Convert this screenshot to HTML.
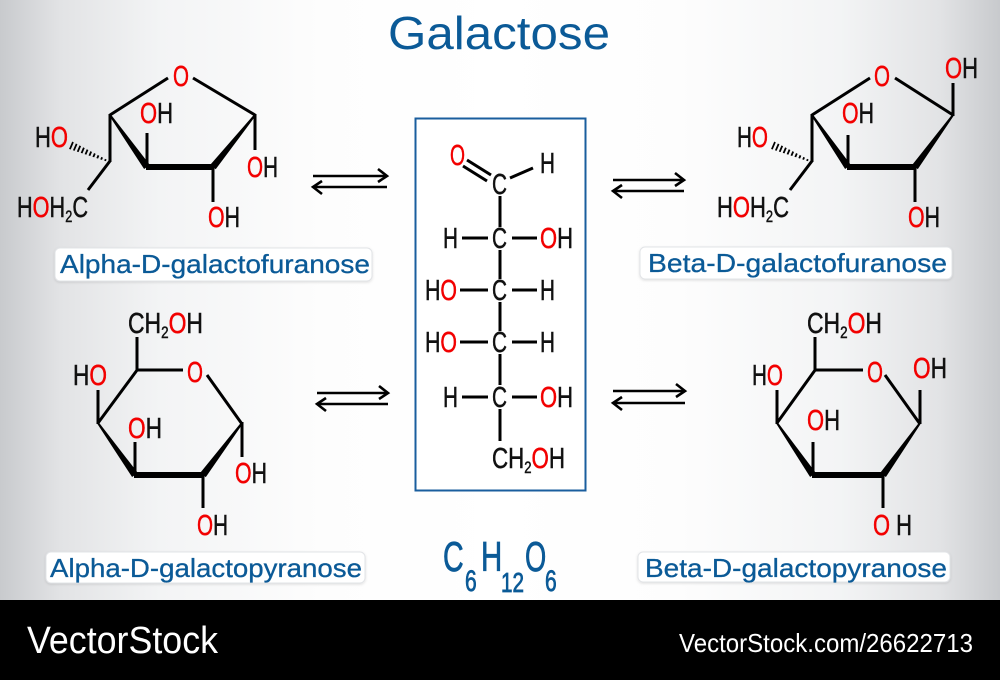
<!DOCTYPE html>
<html><head><meta charset="utf-8">
<style>
html,body{margin:0;padding:0;}
body{width:1000px;height:680px;overflow:hidden;background:#fff;}
svg{display:block;}
.t{font-family:"Liberation Sans",sans-serif;font-size:29px;fill:#111;stroke:#111;stroke-width:0.5;}
.r{fill:#f20000;stroke:#f20000;}
.s{font-size:17px;}
.lb{font-family:"Liberation Sans",sans-serif;font-size:26px;fill:#0b5a97;stroke:#0b5a97;stroke-width:0.3;}
.b{stroke:#000;stroke-width:3;fill:none;}
.bb{stroke:#000;stroke-width:6;fill:none;}
.w{fill:#000;}
.ar{stroke:#000;stroke-width:2.6;fill:none;}
.box{fill:#fff;stroke:#e2e4e7;stroke-width:1;}
.f{font-family:"Liberation Sans",sans-serif;fill:#0b5a97;stroke:#0b5a97;stroke-width:0.8;}
</style></head>
<body>
<svg width="1000" height="680" viewBox="0 0 1000 680" xmlns="http://www.w3.org/2000/svg">
<defs>
<linearGradient id="bg" x1="0" y1="0" x2="1" y2="0">
<stop offset="0" stop-color="#c8cacd"/>
<stop offset="0.06" stop-color="#e2e3e5"/>
<stop offset="0.16" stop-color="#f3f4f5"/>
<stop offset="0.32" stop-color="#fdfdfd"/>
<stop offset="0.5" stop-color="#ffffff"/>
<stop offset="0.68" stop-color="#fdfdfd"/>
<stop offset="0.84" stop-color="#f3f4f5"/>
<stop offset="0.94" stop-color="#e2e3e5"/>
<stop offset="1" stop-color="#c8cacd"/>
</linearGradient>
<filter id="sh" x="-5%" y="-20%" width="110%" height="140%">
<feDropShadow dx="0" dy="1" stdDeviation="1.2" flood-color="#000" flood-opacity="0.12"/>
</filter>
<mask id="h1" maskUnits="userSpaceOnUse" x="0" y="0" width="1000" height="680">
<line x1="110" y1="162" x2="68" y2="144" stroke="#fff" stroke-width="14" stroke-dasharray="1.8 2.3"/>
</mask>
<mask id="h2" maskUnits="userSpaceOnUse" x="0" y="0" width="1000" height="680">
<line x1="812" y1="162" x2="770" y2="144" stroke="#fff" stroke-width="14" stroke-dasharray="1.8 2.3"/>
</mask>
</defs>

<rect x="0" y="0" width="1000" height="600" fill="url(#bg)"/>

<!-- Title -->
<text x="388" y="49" font-family="Liberation Sans, sans-serif" font-size="46" fill="#0b5a97" textLength="222" lengthAdjust="spacingAndGlyphs">Galactose</text>

<!-- ===== Top-left: alpha furanose ===== -->
<line class="b" x1="110" y1="115" x2="168" y2="78"/>
<line class="b" x1="193" y1="78" x2="255" y2="115"/>
<line class="b" x1="255" y1="114" x2="255" y2="150"/>
<polygon class="w" points="255.8,115.6 215.7,169.2 210.3,164.8 254.2,114.4"/>
<line class="bb" x1="214" y1="167" x2="146" y2="167"/>
<line class="b" x1="213" y1="167" x2="213" y2="202"/>
<line class="b" x1="147" y1="167" x2="147" y2="133"/>
<polygon class="w" points="110.8,114.4 149.9,165 144.1,169 109.2,115.6"/>
<line class="b" x1="110" y1="114" x2="110" y2="162"/>
<line class="b" x1="110" y1="161" x2="88" y2="190"/>
<polygon class="w" mask="url(#h1)" points="110.2,161.5 71.6,141.3 68.4,148.7 109.8,162.5"/>
<text class="t" x="173" y="86" textLength="16" lengthAdjust="spacingAndGlyphs"><tspan class="r">O</tspan></text>
<text class="t" x="140" y="123" textLength="33" lengthAdjust="spacingAndGlyphs"><tspan class="r">O</tspan>H</text>
<text class="t" x="35" y="147" textLength="33" lengthAdjust="spacingAndGlyphs">H<tspan class="r">O</tspan></text>
<text class="t" x="247" y="177" textLength="31" lengthAdjust="spacingAndGlyphs"><tspan class="r">O</tspan>H</text>
<text class="t" x="208" y="227" textLength="32" lengthAdjust="spacingAndGlyphs"><tspan class="r">O</tspan>H</text>
<text class="t" x="17" y="217" textLength="71" lengthAdjust="spacingAndGlyphs">H<tspan class="r">O</tspan>H<tspan class="s" dy="5">2</tspan><tspan dy="-5">C</tspan></text>

<!-- arrows TL -->
<line class="ar" x1="313" y1="176" x2="387" y2="176"/>
<polyline class="ar" points="378,169 387,176 378,182"/>
<line class="ar" x1="313" y1="187" x2="387" y2="187"/>
<polyline class="ar" points="322,181 313,187 322,194"/>

<rect class="box" filter="url(#sh)" x="55" y="248" width="317" height="33" rx="5"/>
<text class="lb" x="60" y="273" textLength="310" lengthAdjust="spacingAndGlyphs">Alpha-D-galactofuranose</text>

<!-- ===== Top-right: beta furanose ===== -->
<line class="b" x1="812" y1="115" x2="870" y2="78"/>
<line class="b" x1="895" y1="78" x2="953" y2="115"/>
<line class="b" x1="953" y1="116" x2="953" y2="83"/>
<polygon class="w" points="953.8,115.6 917.8,169.1 912.2,164.9 952.2,114.4"/>
<line class="bb" x1="916" y1="167" x2="847" y2="167"/>
<line class="b" x1="915" y1="167" x2="915" y2="202"/>
<line class="b" x1="848" y1="167" x2="848" y2="135"/>
<polygon class="w" points="812.8,114.4 850.9,165 845.1,169 811.2,115.6"/>
<line class="b" x1="812" y1="114" x2="812" y2="162"/>
<line class="b" x1="812" y1="161" x2="790" y2="190"/>
<polygon class="w" mask="url(#h2)" points="812.2,161.5 773.6,141.3 770.4,148.7 811.8,162.5"/>
<text class="t" x="874" y="86" textLength="16" lengthAdjust="spacingAndGlyphs"><tspan class="r">O</tspan></text>
<text class="t" x="945" y="78" textLength="33" lengthAdjust="spacingAndGlyphs"><tspan class="r">O</tspan>H</text>
<text class="t" x="842" y="123" textLength="32" lengthAdjust="spacingAndGlyphs"><tspan class="r">O</tspan>H</text>
<text class="t" x="737" y="147" textLength="31" lengthAdjust="spacingAndGlyphs">H<tspan class="r">O</tspan></text>
<text class="t" x="908" y="227" textLength="32" lengthAdjust="spacingAndGlyphs"><tspan class="r">O</tspan>H</text>
<text class="t" x="717" y="217" textLength="72" lengthAdjust="spacingAndGlyphs">H<tspan class="r">O</tspan>H<tspan class="s" dy="5">2</tspan><tspan dy="-5">C</tspan></text>

<!-- arrows TR -->
<line class="ar" x1="613" y1="180" x2="684" y2="180"/>
<polyline class="ar" points="675,173 684,180 675,186"/>
<line class="ar" x1="613" y1="191" x2="684" y2="191"/>
<polyline class="ar" points="622,185 613,191 622,198"/>

<rect class="box" filter="url(#sh)" x="640" y="247" width="312" height="32" rx="5"/>
<text class="lb" x="648" y="272" textLength="299" lengthAdjust="spacingAndGlyphs">Beta-D-galactofuranose</text>

<!-- ===== Center Fischer projection ===== -->
<rect x="415.5" y="118.5" width="170" height="372" fill="#fff" stroke="#1a5e9e" stroke-width="2"/>
<text class="t" x="450" y="165" textLength="15" lengthAdjust="spacingAndGlyphs"><tspan class="r">O</tspan></text>
<line class="b" x1="467" y1="160" x2="491" y2="175" stroke-width="2.6"/>
<line class="b" x1="463" y1="166" x2="487" y2="181" stroke-width="2.6"/>
<text class="t" x="492" y="194" textLength="15" lengthAdjust="spacingAndGlyphs">C</text>
<line class="b" x1="510" y1="178" x2="533" y2="168"/>
<text class="t" x="540" y="173" textLength="15" lengthAdjust="spacingAndGlyphs">H</text>
<line class="b" x1="500" y1="196" x2="500" y2="227"/>

<!-- row 2 -->
<text class="t" x="443" y="248" textLength="15" lengthAdjust="spacingAndGlyphs">H</text>
<line class="b" x1="462" y1="238" x2="488" y2="238"/>
<text class="t" x="492" y="248" textLength="15" lengthAdjust="spacingAndGlyphs">C</text>
<line class="b" x1="512" y1="238" x2="537" y2="238"/>
<text class="t" x="540" y="248" textLength="33" lengthAdjust="spacingAndGlyphs"><tspan class="r">O</tspan>H</text>
<line class="b" x1="500" y1="250" x2="500" y2="279"/>

<!-- row 3 -->
<text class="t" x="425" y="300" textLength="32" lengthAdjust="spacingAndGlyphs">H<tspan class="r">O</tspan></text>
<line class="b" x1="460" y1="290" x2="488" y2="290"/>
<text class="t" x="492" y="300" textLength="15" lengthAdjust="spacingAndGlyphs">C</text>
<line class="b" x1="512" y1="290" x2="537" y2="290"/>
<text class="t" x="540" y="300" textLength="15" lengthAdjust="spacingAndGlyphs">H</text>
<line class="b" x1="500" y1="302" x2="500" y2="331"/>

<!-- row 4 -->
<text class="t" x="425" y="352" textLength="32" lengthAdjust="spacingAndGlyphs">H<tspan class="r">O</tspan></text>
<line class="b" x1="460" y1="342" x2="488" y2="342"/>
<text class="t" x="492" y="352" textLength="15" lengthAdjust="spacingAndGlyphs">C</text>
<line class="b" x1="512" y1="342" x2="537" y2="342"/>
<text class="t" x="540" y="352" textLength="15" lengthAdjust="spacingAndGlyphs">H</text>
<line class="b" x1="500" y1="354" x2="500" y2="385"/>

<!-- row 5 -->
<text class="t" x="443" y="407" textLength="15" lengthAdjust="spacingAndGlyphs">H</text>
<line class="b" x1="462" y1="397" x2="488" y2="397"/>
<text class="t" x="492" y="407" textLength="15" lengthAdjust="spacingAndGlyphs">C</text>
<line class="b" x1="512" y1="397" x2="537" y2="397"/>
<text class="t" x="540" y="407" textLength="33" lengthAdjust="spacingAndGlyphs"><tspan class="r">O</tspan>H</text>
<line class="b" x1="500" y1="409" x2="500" y2="441"/>
<text class="t" x="492" y="468" textLength="73" lengthAdjust="spacingAndGlyphs">CH<tspan class="s" dy="5">2</tspan><tspan class="r" dy="-5">O</tspan>H</text>

<!-- ===== Bottom-left: alpha pyranose ===== -->
<text class="t" x="128" y="333" textLength="75" lengthAdjust="spacingAndGlyphs">CH<tspan class="s" dy="5">2</tspan><tspan class="r" dy="-5">O</tspan>H</text>
<line class="b" x1="137" y1="337" x2="137" y2="371"/>
<line class="b" x1="136" y1="370" x2="183" y2="370"/>
<text class="t" x="187" y="382" textLength="16" lengthAdjust="spacingAndGlyphs"><tspan class="r">O</tspan></text>
<line class="b" x1="207" y1="375" x2="242" y2="424"/>
<line class="b" x1="242" y1="422" x2="242" y2="457"/>
<text class="t" x="235" y="483" textLength="32" lengthAdjust="spacingAndGlyphs"><tspan class="r">O</tspan>H</text>
<polygon class="w" points="242.8,423.6 205.8,477.1 200.2,472.9 241.2,422.4"/>
<line class="bb" x1="204" y1="475" x2="134" y2="475"/>
<line class="b" x1="203" y1="475" x2="203" y2="508"/>
<text class="t" x="197" y="535" textLength="31" lengthAdjust="spacingAndGlyphs"><tspan class="r">O</tspan>H</text>
<line class="b" x1="135" y1="475" x2="135" y2="442"/>
<text class="t" x="128" y="438" textLength="34" lengthAdjust="spacingAndGlyphs"><tspan class="r">O</tspan>H</text>
<polygon class="w" points="98.8,422.4 137.9,473 132.1,477 97.2,423.6"/>
<line class="b" x1="98" y1="424" x2="98" y2="390"/>
<text class="t" x="73" y="385" textLength="34" lengthAdjust="spacingAndGlyphs">H<tspan class="r">O</tspan></text>
<line class="b" x1="98" y1="423" x2="137.5" y2="369.5"/>

<!-- arrows BL -->
<line class="ar" x1="317" y1="393" x2="388" y2="393"/>
<polyline class="ar" points="379,386 388,393 379,399"/>
<line class="ar" x1="317" y1="404" x2="388" y2="404"/>
<polyline class="ar" points="326,398 317,404 326,411"/>

<rect class="box" filter="url(#sh)" x="46" y="552" width="319" height="31" rx="5"/>
<text class="lb" x="50" y="577" textLength="312" lengthAdjust="spacingAndGlyphs">Alpha-D-galactopyranose</text>

<!-- ===== Bottom-right: beta pyranose ===== -->
<text class="t" x="807" y="333" textLength="75" lengthAdjust="spacingAndGlyphs">CH<tspan class="s" dy="5">2</tspan><tspan class="r" dy="-5">O</tspan>H</text>
<line class="b" x1="815" y1="337" x2="815" y2="371"/>
<line class="b" x1="814" y1="370" x2="863" y2="370"/>
<text class="t" x="867" y="382" textLength="16" lengthAdjust="spacingAndGlyphs"><tspan class="r">O</tspan></text>
<line class="b" x1="885" y1="375" x2="920" y2="424"/>
<line class="b" x1="920" y1="424" x2="920" y2="390"/>
<text class="t" x="913" y="378" textLength="34" lengthAdjust="spacingAndGlyphs"><tspan class="r">O</tspan>H</text>
<polygon class="w" points="920.8,423.6 885.9,477 880.1,473 919.2,422.4"/>
<line class="bb" x1="884" y1="475" x2="812" y2="475"/>
<line class="b" x1="883" y1="475" x2="883" y2="508"/>
<text class="t" x="873" y="535" textLength="39" lengthAdjust="spacingAndGlyphs"><tspan class="r">O</tspan> H</text>
<line class="b" x1="813" y1="475" x2="813" y2="442"/>
<text class="t" x="807" y="430" textLength="33" lengthAdjust="spacingAndGlyphs"><tspan class="r">O</tspan>H</text>
<polygon class="w" points="777.8,422.4 815.9,473 810.1,477 776.2,423.6"/>
<line class="b" x1="777" y1="424" x2="777" y2="390"/>
<text class="t" x="752" y="385" textLength="31" lengthAdjust="spacingAndGlyphs">H<tspan class="r">O</tspan></text>
<line class="b" x1="777" y1="423" x2="815.5" y2="369.5"/>

<!-- arrows BR -->
<line class="ar" x1="613" y1="391" x2="685" y2="391"/>
<polyline class="ar" points="676,384 685,391 676,397"/>
<line class="ar" x1="613" y1="403" x2="685" y2="403"/>
<polyline class="ar" points="622,397 613,403 622,410"/>

<rect class="box" filter="url(#sh)" x="638" y="552" width="312" height="30" rx="5"/>
<text class="lb" x="645" y="577" textLength="302" lengthAdjust="spacingAndGlyphs">Beta-D-galactopyranose</text>

<!-- Formula -->
<text class="f" transform="translate(443,571) scale(0.68,1)" font-size="42">C</text>
<text class="f" transform="translate(465,591) scale(0.7,1)" font-size="30">6</text>
<text class="f" transform="translate(481,571) scale(0.7,1)" font-size="42">H</text>
<text class="f" transform="translate(501,592) scale(0.74,1)" font-size="28">12</text>
<text class="f" transform="translate(525,571) scale(0.65,1)" font-size="42">O</text>
<text class="f" transform="translate(545,591) scale(0.7,1)" font-size="30">6</text>

<!-- Bottom bar -->
<rect x="0" y="600" width="1000" height="80" fill="#000"/>
<text x="27" y="653" font-family="Liberation Sans, sans-serif" font-size="38" fill="#fff" textLength="191" lengthAdjust="spacingAndGlyphs">VectorStock</text>
<text x="679" y="652" font-family="Liberation Sans, sans-serif" font-size="26" fill="#fff" textLength="294" lengthAdjust="spacingAndGlyphs">VectorStock.com/26622713</text>
</svg>
</body></html>
